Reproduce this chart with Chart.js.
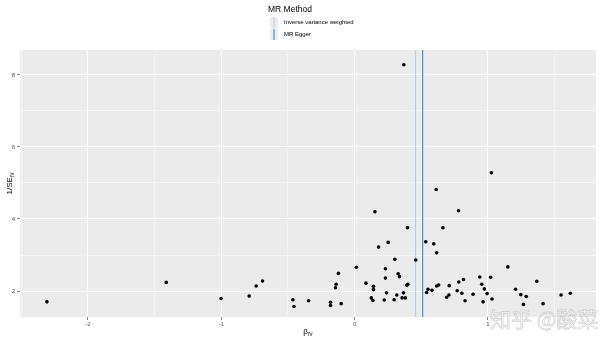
<!DOCTYPE html>
<html>
<head>
<meta charset="utf-8">
<script src="https://cdn.jsdelivr.net/npm/chart.js@4"></script>
<style>
  html, body { margin: 0; padding: 0; background: #fff; }
  #funnel { display: block; }
</style>
</head>
<body>
<canvas id="funnel" width="600" height="338"></canvas>
<script>
// per-SNP estimates
const betaIV = [-2.308, -1.413, -1.002, -0.791, -0.739, -0.691, -0.463, -0.455, -0.346, -0.181,
  -0.181, -0.101, -0.122, -0.139, -0.144, 0.013, 0.085, 0.152, 0.141, 0.141,
  0.125, 0.137, 0.179, 0.231, 0.231, 0.239, 0.222, 0.251, 0.301, 0.326,
  0.336, 0.316, 0.296, 0.366, 0.356, 0.381, 0.396, 0.391, 0.399, 0.458,
  0.369, 0.533, 0.540, 0.550, 0.580, 0.593, 0.612, 0.615, 0.615, 0.630,
  0.662, 0.690, 0.707, 0.709, 0.779, 0.781, 0.816, 0.769, 0.804, 0.828,
  0.888, 0.938, 0.953, 0.973, 0.993, 0.963, 1.025, 1.020, 1.030, 1.149,
  1.207, 1.246, 1.287, 1.266, 1.366, 1.413, 1.548, 1.617];
const invSE = [1.70, 2.24, 1.79, 1.86, 2.14, 2.28, 1.76, 1.57, 1.73, 1.69,
  1.60, 1.65, 2.49, 2.19, 2.09, 2.66, 2.22, 4.20, 2.13, 2.04,
  1.81, 1.74, 3.22, 2.62, 2.36, 1.95, 1.75, 3.35, 2.88, 2.48,
  2.40, 1.89, 1.76, 1.95, 1.81, 1.81, 3.76, 2.16, 2.19, 2.86,
  8.28, 3.37, 1.96, 2.05, 2.02, 3.31, 4.82, 3.06, 2.14, 2.17,
  3.76, 1.83, 1.89, 2.15, 4.23, 2.25, 2.32, 2.01, 1.94, 1.73,
  1.91, 2.39, 2.19, 2.06, 1.93, 1.70, 5.28, 2.38, 1.78, 2.67,
  2.05, 1.90, 1.85, 1.63, 2.27, 1.65, 1.89, 1.94];

const methods = ['Inverse variance weighted', 'MR Egger'];
const methodBeta = [0.457, 0.51];
const methodColors = ['#a6cee3', '#2b7bba'];

const xTicks = [-2, -1, 0, 1];
const xMinor = [-2.5, -1.5, -0.5, 0.5, 1.5];
const yTicks = [2, 4, 6, 8];
const yMinor = [3, 5, 7];

const xMin = -2.51, xMax = 1.81;
const yMin = 1.28, yMax = 8.69;

const FONT = '"Liberation Sans", Arial, sans-serif';

const points = betaIV.map((b, i) => ({ x: b, y: invSE[i] }));

const lineSets = methods.map((m, i) => ({
  type: 'line',
  label: m,
  data: [{ x: methodBeta[i], y: yMin }, { x: methodBeta[i], y: yMax }],
  borderColor: methodColors[i],
  borderWidth: 1,
  pointRadius: 0,
  fill: false
}));

function setTicks(major, minor) {
  return scale => {
    scale.ticks = major.concat(minor).sort((a, b) => a - b).map(v => ({ value: v }));
  };
}

// ggplot-ish panel, legend, axis titles and watermark
const ggDecor = {
  id: 'ggDecor',
  beforeDraw(chart) {
    const { ctx, chartArea: a } = chart;
    ctx.save();
    ctx.fillStyle = '#ffffff';
    ctx.fillRect(0, 0, chart.width, chart.height);
    ctx.fillStyle = '#ebebeb';
    ctx.fillRect(a.left, a.top, a.right - a.left, a.bottom - a.top);
    ctx.restore();
  },
  afterDraw(chart) {
    const { ctx, chartArea: a } = chart;
    ctx.save();

    // legend
    ctx.fillStyle = '#000';
    ctx.textBaseline = 'middle';
    ctx.textAlign = 'left';
    ctx.font = '8.5px ' + FONT;
    ctx.fillText('MR Method', 268, 10);
    ctx.font = '6px ' + FONT;
    methods.forEach((m, i) => {
      const top = 17 + i * 12;
      ctx.fillStyle = '#eeeeee';
      ctx.fillRect(270, top, 8, 11);
      ctx.strokeStyle = methodColors[i];
      ctx.lineWidth = 1;
      ctx.beginPath();
      ctx.moveTo(274, top);
      ctx.lineTo(274, top + 11);
      ctx.stroke();
      ctx.fillStyle = '#000';
      ctx.fillText(m, 284, top + 5.5);
    });

    // y title 1/SE_IV
    ctx.save();
    ctx.translate(9, (a.top + a.bottom) / 2);
    ctx.rotate(-Math.PI / 2);
    ctx.font = '8px ' + FONT;
    const w1 = ctx.measureText('1/SE').width;
    ctx.font = '5px ' + FONT;
    const w2 = ctx.measureText('IV').width;
    const start = -(w1 + w2) / 2;
    ctx.fillStyle = '#000';
    ctx.textAlign = 'left';
    ctx.textBaseline = 'alphabetic';
    ctx.font = '8px ' + FONT;
    ctx.fillText('1/SE', start, 3);
    ctx.font = '5px ' + FONT;
    ctx.fillText('IV', start + w1, 5);
    ctx.restore();

    // x title beta_IV
    ctx.font = '8px ' + FONT;
    const b1 = ctx.measureText('β').width;
    ctx.font = '5px ' + FONT;
    const b2 = ctx.measureText('IV').width;
    const bx = (a.left + a.right) / 2 - (b1 + b2) / 2;
    ctx.textAlign = 'left';
    ctx.textBaseline = 'alphabetic';
    ctx.fillStyle = '#000';
    ctx.font = '8px ' + FONT;
    ctx.fillText('β', bx, 334);
    ctx.font = '5px ' + FONT;
    ctx.fillText('IV', bx + b1, 336);

    // watermark
    ctx.font = '21px "Noto Sans CJK SC", sans-serif';
    ctx.textBaseline = 'alphabetic';
    ctx.lineWidth = 0.8;
    ctx.strokeStyle = 'rgba(150,150,150,0.4)';
    ctx.fillStyle = 'rgba(255,255,255,0.92)';
    ctx.fillText('知乎 @酸菜', 490, 327);
    ctx.strokeText('知乎 @酸菜', 490, 327);

    ctx.restore();
  }
};

const ctx = document.getElementById('funnel').getContext('2d');
new Chart(ctx, {
  type: 'scatter',
  data: {
    datasets: [{
      label: 'SNP',
      data: points,
      backgroundColor: '#000',
      borderColor: '#000',
      borderWidth: 0,
      pointRadius: 1.8,
      pointHoverRadius: 1.8
    }].concat(lineSets)
  },
  options: {
    responsive: false,
    animation: false,
    events: [],
    layout: { padding: { left: 0, right: 4, top: 50, bottom: 0 } },
    plugins: { legend: { display: false }, tooltip: { enabled: false } },
    scales: {
      x: {
        type: 'linear',
        min: xMin,
        max: xMax,
        afterBuildTicks: setTicks(xTicks, xMinor),
        afterFit: s => { s.height = 21; },
        border: { display: false },
        grid: {
          color: '#ffffff',
          lineWidth: c => xTicks.includes(c.tick.value) ? 1 : 0.5,
          tickLength: 3,
          tickWidth: 0.6,
          tickColor: c => xTicks.includes(c.tick.value) ? '#333333' : 'rgba(0,0,0,0)'
        },
        ticks: {
          autoSkip: false,
          maxRotation: 0,
          padding: 1,
          color: '#4d4d4d',
          font: { family: FONT, size: 6 },
          callback: v => xTicks.includes(v) ? String(v) : ''
        }
      },
      y: {
        type: 'linear',
        min: yMin,
        max: yMax,
        afterBuildTicks: setTicks(yTicks, yMinor),
        afterFit: s => { s.width = 20; },
        border: { display: false },
        grid: {
          color: '#ffffff',
          lineWidth: c => yTicks.includes(c.tick.value) ? 1 : 0.5,
          tickLength: 3,
          tickWidth: 0.6,
          tickColor: c => yTicks.includes(c.tick.value) ? '#333333' : 'rgba(0,0,0,0)'
        },
        ticks: {
          autoSkip: false,
          padding: 2,
          color: '#4d4d4d',
          font: { family: FONT, size: 6 },
          callback: v => yTicks.includes(v) ? String(v) : ''
        }
      }
    }
  },
  plugins: [ggDecor]
});
</script>
</body>
</html>
